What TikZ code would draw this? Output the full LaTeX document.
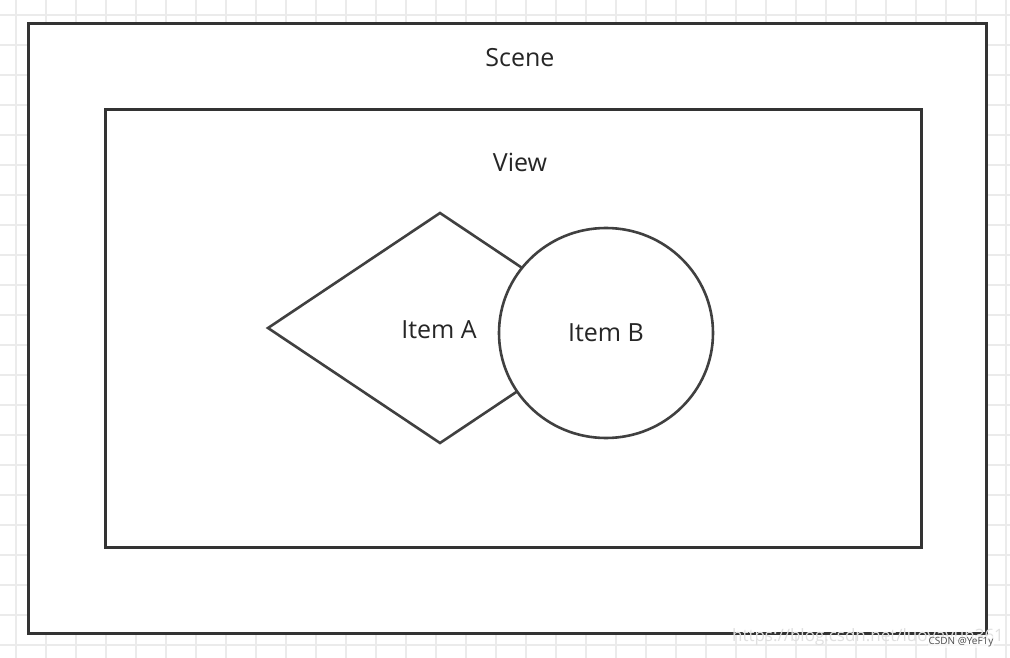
\documentclass[tikz,border=0pt]{standalone}
\usepackage{fontspec}
\usetikzlibrary{shapes.geometric}
\setmainfont{Open Sans}
\begin{document}
\begin{tikzpicture}[x=1pt,y=-1pt,
  frame/.style={draw=black!80,line width=3pt},
  shapeline/.style={draw=black!75,line width=2.6pt,line join=miter},
  lbl/.style={font=\fontsize{25}{29}\selectfont,text=black!85}]
\useasboundingbox (0,0) rectangle (1010,658);
\fill[white] (0,0) rectangle (1010,658);
\foreach \x in {16,46,...,1006} \draw[black!8,line width=2pt] (\x,0) -- (\x,658);
\foreach \y in {15,45,...,655} \draw[black!8,line width=2pt] (0,\y) -- (1010,\y);
\draw[frame,fill=white] (28,24) rectangle (986,633);
\draw[frame] (105,110) rectangle (921,547);
\coordinate (dl) at (268,328);
\coordinate (dt) at (440,213);
\coordinate (dr) at (612,328);
\coordinate (db) at (440,443);
\draw[shapeline] (dl) -- (dt) -- (dr) -- (db) -- cycle;
\node[shapeline,fill=white,ellipse,minimum width=214pt,minimum height=210pt,inner sep=0pt] (itemb) at (606,333) {};
\node[lbl] (scene) at (520,58) {Scene};
\node[lbl] (view) at (520,162) {View};
\node[lbl] (itema) at (439,330) {Item A};
\node[lbl] at (itemb) {Item B};
\node[font=\fontsize{17}{20}\selectfont,text=black!12,inner sep=0pt] (url) at (868,637) {https://blog.csdn.net/luoyayun361};
\node[font=\fontsize{10}{12}\selectfont,text=black!70,fill=white,fill opacity=0.6,text opacity=1,inner sep=1pt] (wm) at (961,642) {CSDN @YeF1y};
\end{tikzpicture}
\end{document}
